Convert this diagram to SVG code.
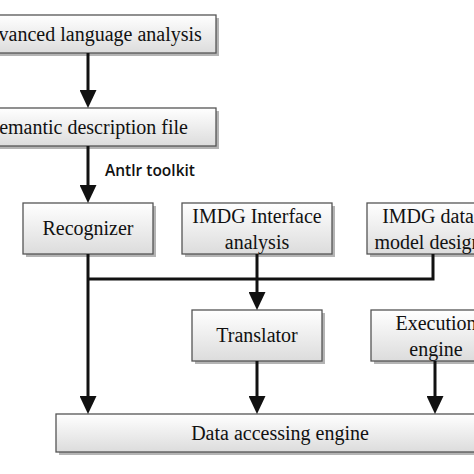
<svg xmlns="http://www.w3.org/2000/svg" width="474" height="474" viewBox="0 0 474 474">
<defs>
<linearGradient id="g" x1="0" y1="0" x2="0" y2="1">
<stop offset="0" stop-color="#ffffff"/>
<stop offset="1" stop-color="#dcdcdc"/>
</linearGradient>
<marker id="ah" viewBox="0 0 18 17" refX="8" refY="8.5" markerWidth="18" markerHeight="17" markerUnits="userSpaceOnUse" orient="auto">
<path d="M0,0 L18,8.5 L0,17 z" fill="#111"/>
</marker>
</defs>
<style>
.sh{fill:#b4b4b4;}
.bx{fill:url(#g);stroke:#555;stroke-width:1.3;}
.t{font-family:"Liberation Serif","Times New Roman",serif;font-size:20px;fill:#111;text-anchor:middle;}
.lbl{font-family:"Open Sans","Liberation Sans",Arial,sans-serif;font-size:15.5px;font-weight:600;fill:#111;}
.c{fill:none;stroke:#111;stroke-width:3;}
.ca{fill:none;stroke:#111;stroke-width:3;marker-end:url(#ah);}
</style>
<rect width="474" height="474" fill="#fff"/>
<g id="advanced">
<rect class="sh" x="-37" y="18" width="256" height="38"/>
<rect class="bx" x="-40" y="15" width="256" height="38"/>
<text class="t" x="88" y="41">Advanced language analysis</text>
</g>
<g id="semantic">
<rect class="sh" x="-37" y="111" width="256" height="38"/>
<rect class="bx" x="-40" y="108" width="256" height="38"/>
<text class="t" x="88" y="134">Semantic description file</text>
</g>
<g id="recognizer">
<rect class="sh" x="26" y="206" width="130" height="51"/>
<rect class="bx" x="23" y="203" width="130" height="51"/>
<text class="t" x="88" y="235">Recognizer</text>
</g>
<g id="interface">
<rect class="sh" x="185" y="206" width="150" height="51"/>
<rect class="bx" x="182" y="203" width="150" height="51"/>
<text class="t" x="257" y="223">IMDG Interface</text>
<text class="t" x="257" y="249">analysis</text>
</g>
<g id="datamodel">
<rect class="sh" x="370" y="206" width="130" height="51"/>
<rect class="bx" x="367" y="203" width="130" height="51"/>
<text class="t" x="428" y="223">IMDG data</text>
<text class="t" x="428" y="249">model design</text>
</g>
<g id="translator">
<rect class="sh" x="195" y="313" width="130" height="51"/>
<rect class="bx" x="192" y="310" width="130" height="51"/>
<text class="t" x="257" y="342">Translator</text>
</g>
<g id="execution">
<rect class="sh" x="374" y="313" width="130" height="51"/>
<rect class="bx" x="371" y="310" width="130" height="51"/>
<text class="t" x="436" y="330">Execution</text>
<text class="t" x="436" y="356">engine</text>
</g>
<g id="dataaccess">
<rect class="sh" x="59" y="417" width="450" height="38"/>
<rect class="bx" x="56" y="414" width="450" height="38"/>
<text class="t" x="280" y="440">Data accessing engine</text>
</g>
<g id="connectors">
<path class="ca" d="M88 53 V98"/>
<path class="ca" d="M88 146 V193"/>
<text class="lbl" x="105" y="176">Antlr toolkit</text>
<path class="ca" d="M88 254 V404"/>
<path class="c" d="M88 279 H433 V254"/>
<path class="ca" d="M257 254 V300"/>
<path class="ca" d="M257 361 V404"/>
<path class="ca" d="M435 361 V404"/>
</g>
</svg>
